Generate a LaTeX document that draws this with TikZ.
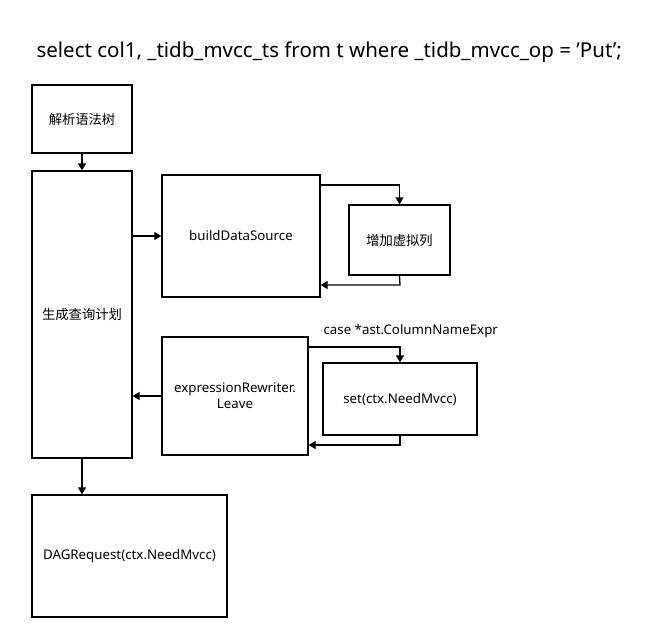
\documentclass[tikz,border=0pt]{standalone}
\usepackage{fontspec}
\setmainfont{Noto Sans}
\newfontfamily\cjk{Noto Sans CJK SC}
\usetikzlibrary{arrows.meta}
\begin{document}
\begin{tikzpicture}[x=1pt,y=-1pt,
  box/.style={draw,line width=1.3pt,inner sep=0pt,font=\fontsize{13.3}{16}\selectfont,align=center},
  conn/.style={line width=1.3pt,-{Triangle[length=7pt,width=8pt]}}]
\useasboundingbox (0,0) rectangle (660,642);
\node[anchor=west,font=\fontsize{20.5}{24}\selectfont] (title) at (33,52) {select col1, \_tidb\_mvcc\_ts from t where \_tidb\_mvcc\_op = 'Put';};
\node[box,minimum width=100pt,minimum height=68pt] (parse) at (82,119) {\cjk 解析语法树};
\node[box,minimum width=100pt,minimum height=287pt] (plan) at (82,314.5) {\cjk 生成查询计划};
\node[box,minimum width=158pt,minimum height=122pt] (bds) at (241,236) {buildDataSource};
\node[box,minimum width=101pt,minimum height=70pt] (virt) at (399.5,240) {\cjk 增加虚拟列};
\node[box,minimum width=146pt,minimum height=118pt] (rw) at (235,396) {expressionRewriter.\\Leave};
\node[box,minimum width=154pt,minimum height=72pt] (set) at (400,399) {set(ctx.NeedMvcc)};
\node[box,minimum width=195pt,minimum height=122pt] (dag) at (129.5,556) {DAGRequest(ctx.NeedMvcc)};
\draw[conn] (parse.south) -- (plan.north);
\draw[conn] (plan.east |- 0,236) -- (bds.west);
\draw[conn] (bds.east |- 0,185) -| (virt.north);
\draw[conn] (virt.south) -- (400,285) -- (bds.east |- 0,285);
\draw[conn] (rw.west) -- (plan.east |- rw.west);
\draw[conn] (rw.east |- 0,347) -| (set.north);
\node[anchor=west,font=\fontsize{13.3}{16}\selectfont] (lbl) at (320,331) {case *ast.ColumnNameExpr};
\draw[conn] (set.south) -- (400,445) -- (rw.east |- 0,445);
\draw[conn] (plan.south) -- (dag.north -| plan.south);
\end{tikzpicture}
\end{document}
